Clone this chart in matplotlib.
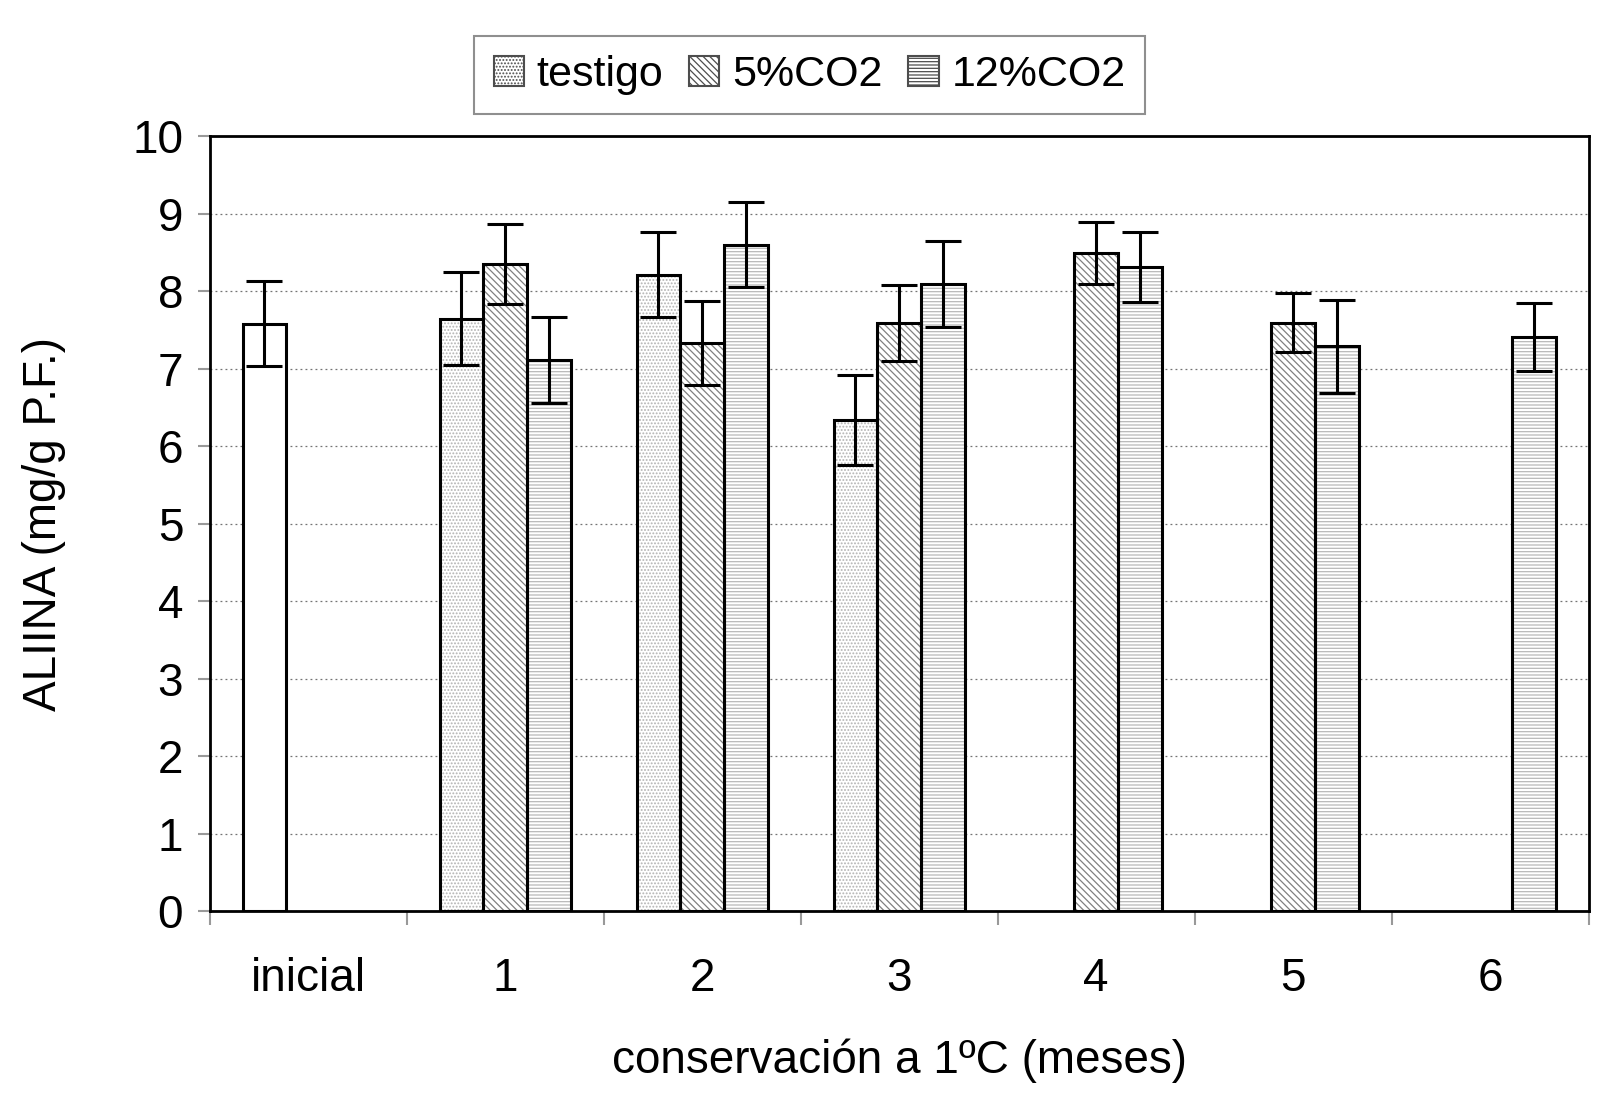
import numpy as np
import matplotlib.pyplot as plt
from matplotlib.patches import Patch

plt.rcParams['font.family'] = ['Liberation Sans', 'DejaVu Sans']
plt.rcParams['hatch.linewidth'] = 0.9

categories = ['inicial', '1', '2', '3', '4', '5', '6']
series = ['testigo', '5%CO2', '12%CO2']

# initial value (plain white bar in the first slot)
inicial_val = 7.58
inicial_err = 0.55

testigo = [np.nan, 7.64, 8.21, 6.34, np.nan, np.nan, np.nan]
testigo_err = [0, 0.60, 0.55, 0.58, 0, 0, 0]
co2_5 = [np.nan, 8.35, 7.33, 7.59, 8.49, 7.59, np.nan]
co2_5_err = [0, 0.52, 0.54, 0.49, 0.40, 0.38, 0]
co2_12 = [np.nan, 7.11, 8.60, 8.09, 8.31, 7.29, 7.41]
co2_12_err = [0, 0.55, 0.55, 0.55, 0.45, 0.60, 0.44]

hatches = ['.....', '\\\\\\\\\\', '-----']
hatch_cols = ['0.7', '0.5', '0.72']

fig = plt.figure(figsize=(16, 11.1), dpi=100)
ax = fig.add_axes([0.131, 0.179, 0.862, 0.6985])

x = np.arange(len(categories))
w = 0.222
offsets = [-w, 0, w]
vals = [testigo, co2_5, co2_12]
errs = [testigo_err, co2_5_err, co2_12_err]

ax.set_axisbelow(True)
ax.yaxis.grid(True, linestyle=(0, (1.5, 2.5)), color='0.45', linewidth=0.9)

# initial bar
ax.bar(x[0] + offsets[0], inicial_val, w, facecolor='white',
       edgecolor='black', linewidth=2.2, zorder=2)
ax.errorbar(x[0] + offsets[0], inicial_val, yerr=inicial_err, fmt='none',
            ecolor='black', elinewidth=2.2, capsize=13, capthick=2.2, zorder=4)

for v, e, off, h, hc in zip(vals, errs, offsets, hatches, hatch_cols):
    v = np.array(v)
    e = np.array(e)
    m = ~np.isnan(v)
    ax.bar(x[m] + off, v[m], w, facecolor='white', edgecolor=hc,
           hatch=h, linewidth=0, zorder=2)
    ax.bar(x[m] + off, v[m], w, fill=False, edgecolor='black',
           linewidth=2.2, zorder=3)
    ax.errorbar(x[m] + off, v[m], yerr=e[m], fmt='none', ecolor='black',
                elinewidth=2.2, capsize=13, capthick=2.2, zorder=4)

ax.set_xlim(-0.5, len(categories) - 0.5)
ax.set_ylim(0, 10)
ax.set_yticks(range(0, 11))
ax.set_xticks(x)
ax.set_xticklabels(categories)
ax.set_xticks(np.arange(-0.5, len(categories)), minor=True)
ax.tick_params(axis='x', which='major', length=0, pad=33, labelsize=33)
ax.tick_params(axis='x', which='minor', length=10, width=1.5, color='0.6')
ax.tick_params(axis='y', length=9, width=1.5, color='0.6', pad=10, labelsize=33)

for s in ax.spines.values():
    s.set_linewidth(2)
    s.set_color('black')

ax.set_xlabel('conservación a 1ºC (meses)', fontsize=33, labelpad=27)
ax.set_ylabel('ALIINA (mg/g P.F.)', fontsize=33, labelpad=48)

handles = [Patch(facecolor='white', edgecolor='0.3', hatch=h, linewidth=1.5)
           for h in hatches]
leg = fig.legend(handles, series, loc='center', bbox_to_anchor=(0.506, 0.9325),
                 ncol=3, fontsize=31, frameon=True, fancybox=False,
                 edgecolor='0.45', handlelength=0.7, handleheight=0.7,
                 handletextpad=0.3, columnspacing=0.6, borderpad=0.45)
leg.get_frame().set_linewidth(1.5)

fig.savefig('out.png', dpi=100)
